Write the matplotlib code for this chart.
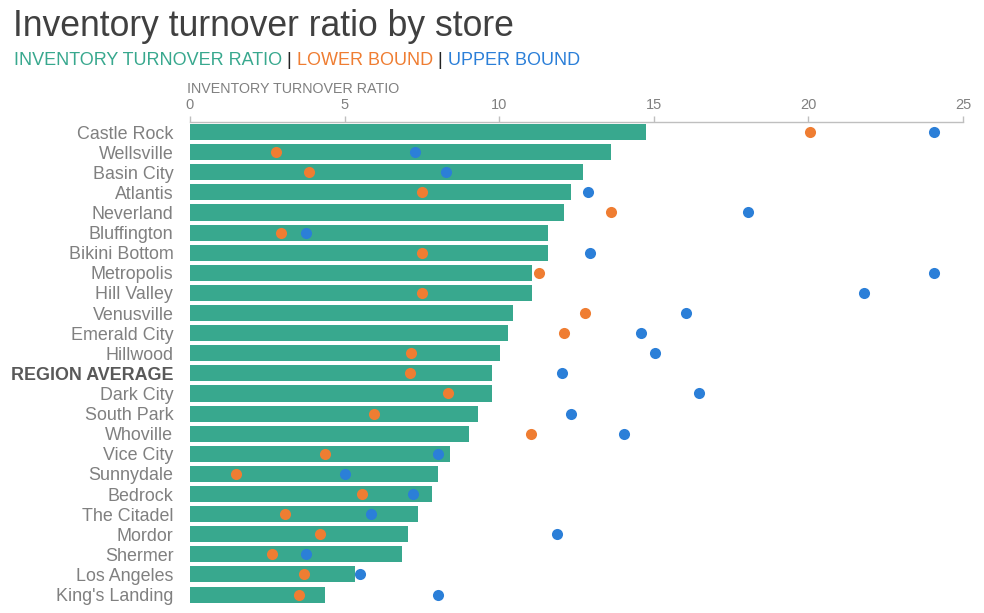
import matplotlib
matplotlib.use("Agg")
import matplotlib.pyplot as plt

stores = [
    "Castle Rock", "Wellsville", "Basin City", "Atlantis", "Neverland",
    "Bluffington", "Bikini Bottom", "Metropolis", "Hill Valley", "Venusville",
    "Emerald City", "Hillwood", "REGION AVERAGE", "Dark City", "South Park",
    "Whoville", "Vice City", "Sunnydale", "Bedrock", "The Citadel", "Mordor",
    "Shermer", "Los Angeles", "King's Landing",
]
turnover = [14.75, 13.62, 12.71, 12.32, 12.10, 11.58, 11.58, 11.06, 11.06, 10.45,
            10.28, 10.03, 9.77, 9.77, 9.31, 9.02, 8.41, 8.02, 7.83, 7.37, 7.05,
            6.86, 5.34, 4.37]
lower = [20.06, 2.79, 3.86, 7.51, 13.63, 2.95, 7.51, 11.30, 7.51, 12.79,
         12.11, 7.16, 7.13, 8.35, 5.96, 11.04, 4.38, 1.50, 5.57, 3.08, 4.21,
         2.64, 3.70, 3.54]
upper = [24.07, 7.29, 8.29, 12.88, 18.06, 3.76, 12.95, 24.07, 21.81, 16.05,
         14.60, 15.05, 12.04, 16.47, 12.33, 14.05, 8.03, 5.02, 7.22, 5.86, 11.88,
         3.76, 5.51, 8.03]
x_ticks = [0, 5, 10, 15, 20, 25]

GREEN = "#38a88e"
ORANGE = "#ef7d32"
BLUE = "#2b7fd8"
GRAY = "#808080"
DARK = "#404040"

plt.rcParams["font.family"] = ["Liberation Sans", "DejaVu Sans"]

W, H = 984, 613
fig = plt.figure(figsize=(W / 100, H / 100), dpi=100)
top_px, bottom_px = 122, 604.6
ax = fig.add_axes([190 / W, 1 - bottom_px / H, (963 - 190) / W, (bottom_px - top_px) / H])

pos = list(range(len(stores)))
ax.barh(pos, turnover, height=0.8, color=GREEN, zorder=2)
ax.scatter(lower, pos, s=64, color=ORANGE, linewidths=0, zorder=3)
ax.scatter(upper, pos, s=64, color=BLUE, linewidths=0, zorder=3)

ax.set_xlim(0, 25)
ax.set_ylim(len(stores) - 0.5, -0.5)
ax.xaxis.tick_top()
ax.set_xticks(x_ticks)
ax.set_xticklabels([str(t) for t in x_ticks])
ax.tick_params(axis="x", length=4, color="#bfbfbf", width=1, pad=3.5,
               labelcolor=GRAY, labelsize=10.5)
ax.set_yticks(pos)
ax.set_yticklabels(stores)
ax.tick_params(axis="y", length=0, pad=12, labelsize=12.9, labelcolor=GRAY)
for lab in ax.get_yticklabels():
    if lab.get_text() == "REGION AVERAGE":
        lab.set_fontweight("bold")
        lab.set_color("#595959")
for side in ["left", "right", "bottom"]:
    ax.spines[side].set_visible(False)
ax.spines["top"].set_color("#bfbfbf")
ax.spines["top"].set_linewidth(1)

# titles
fig.text(13 / W, 1 - 36 / H, "Inventory turnover ratio by store", fontsize=25.6,
         color=DARK, va="baseline", ha="left")
fig.text(187 / W, 1 - 93 / H, "INVENTORY TURNOVER RATIO", fontsize=10.3,
         color=GRAY, va="baseline", ha="left")

parts = [("INVENTORY TURNOVER RATIO", GREEN), (" | ", "#222222"),
         ("LOWER BOUND", ORANGE), (" | ", "#222222"), ("UPPER BOUND", BLUE)]
renderer = fig.canvas.get_renderer()
x = 14 / W
for txt, col in parts:
    t = fig.text(x, 1 - 65 / H, txt, fontsize=13, color=col, va="baseline", ha="left")
    bb = t.get_window_extent(renderer=renderer)
    x = bb.x1 / W

fig.savefig("out.png", dpi=100)
